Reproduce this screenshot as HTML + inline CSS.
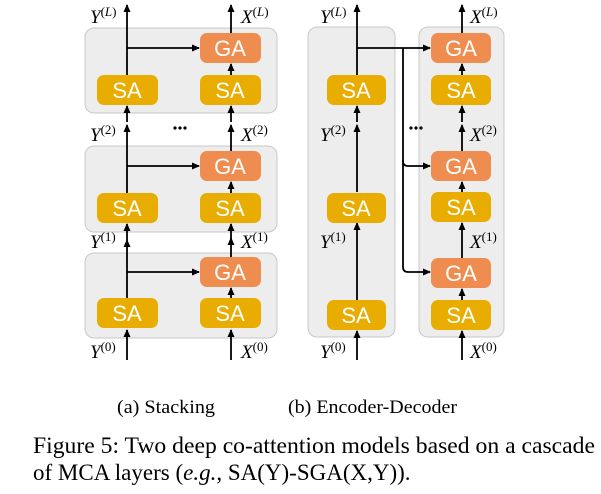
<!DOCTYPE html>
<html><head><style>body{margin:0;background:#fff}svg{display:block}</style></head><body>
<svg width="601" height="494" viewBox="0 0 601 494" xmlns="http://www.w3.org/2000/svg">
<defs><marker id="a" markerWidth="8" markerHeight="8" refX="7" refY="4" orient="auto" markerUnits="userSpaceOnUse"><path d="M0,0.5 L8,4 L0,7.5 Z" fill="#000"/></marker></defs>
<g fill="#ededed" stroke="#c8c8c8" stroke-width="1">
<rect x="85" y="28" width="192" height="85" rx="9"/>
<rect x="85" y="146" width="192" height="86" rx="9"/>
<rect x="85" y="253" width="192" height="85" rx="9"/>
<rect x="308" y="27" width="87" height="310" rx="9"/>
<rect x="419" y="27" width="85" height="310" rx="9"/>
</g>
<g stroke="#000" stroke-width="1.8" fill="none" marker-end="url(#a)">
<line x1="127" y1="75" x2="127" y2="5"/><line x1="127" y1="48" x2="199" y2="48"/>
<line x1="127" y1="122" x2="127" y2="106"/>
<line x1="127" y1="193" x2="127" y2="125"/><line x1="127" y1="166" x2="199" y2="166"/>
<line x1="127" y1="240" x2="127" y2="224"/>
<line x1="127" y1="298" x2="127" y2="240"/><line x1="127" y1="272" x2="199" y2="272"/>
<line x1="127" y1="360" x2="127" y2="330"/>
<line x1="231" y1="33" x2="231" y2="5"/><line x1="231" y1="75" x2="231" y2="64"/>
<line x1="231" y1="122" x2="231" y2="106"/>
<line x1="231" y1="151" x2="231" y2="125"/><line x1="231" y1="193" x2="231" y2="182"/>
<line x1="231" y1="240" x2="231" y2="224"/>
<line x1="231" y1="257" x2="231" y2="238"/><line x1="231" y1="298" x2="231" y2="288"/>
<line x1="231" y1="360" x2="231" y2="330"/>
<line x1="357" y1="75" x2="357" y2="5"/>
<line x1="357" y1="48" x2="430" y2="48"/>
<path d="M403,48 V161 Q403,166 408,166 H430"/>
<path d="M403,160 V267 Q403,272 408,272 H430"/>
<line x1="357" y1="122" x2="357" y2="106"/>
<line x1="357" y1="192" x2="357" y2="125"/>
<line x1="357" y1="300" x2="357" y2="223"/>
<line x1="357" y1="360" x2="357" y2="331"/>
<line x1="462" y1="33" x2="462" y2="5"/><line x1="462" y1="75" x2="462" y2="64"/>
<line x1="462" y1="122" x2="462" y2="106"/>
<line x1="462" y1="151" x2="462" y2="125"/><line x1="462" y1="192" x2="462" y2="182"/>
<line x1="462" y1="258" x2="462" y2="223"/><line x1="462" y1="300" x2="462" y2="289"/>
<line x1="462" y1="360" x2="462" y2="331"/>
</g>
<g font-family="Liberation Sans, DejaVu Sans, sans-serif" font-size="22" fill="#fff" text-anchor="middle">
<g fill="#e8ad00"><rect x="97" y="75" width="61" height="30" rx="7"/><rect x="200" y="75" width="61" height="30" rx="7"/>
<rect x="97" y="193" width="61" height="30" rx="7"/><rect x="200" y="193" width="61" height="30" rx="7"/>
<rect x="97" y="298" width="61" height="30" rx="7"/><rect x="200" y="298" width="61" height="30" rx="7"/>
<rect x="327" y="75" width="59" height="30" rx="7"/><rect x="327" y="193" width="59" height="30" rx="7"/><rect x="327" y="300" width="59" height="30" rx="7"/>
<rect x="431" y="75" width="60" height="30" rx="7"/><rect x="431" y="192" width="60" height="30" rx="7"/><rect x="431" y="300" width="60" height="30" rx="7"/></g>
<g fill="#ef8c4f"><rect x="200" y="33" width="61" height="30" rx="7"/><rect x="200" y="151" width="61" height="30" rx="7"/><rect x="200" y="257" width="61" height="30" rx="7"/>
<rect x="431" y="33" width="60" height="30" rx="7"/><rect x="431" y="151" width="60" height="30" rx="7"/><rect x="431" y="258" width="60" height="30" rx="7"/></g>
<text x="127" y="98">SA</text><text x="230" y="98">SA</text><text x="127" y="216">SA</text><text x="230" y="216">SA</text>
<text x="127" y="321">SA</text><text x="230" y="321">SA</text>
<text x="356" y="98">SA</text><text x="356" y="216">SA</text><text x="356" y="323">SA</text>
<text x="461" y="98">SA</text><text x="461" y="215">SA</text><text x="461" y="323">SA</text>
<text x="230" y="56">GA</text><text x="230" y="174">GA</text><text x="230" y="280">GA</text>
<text x="461" y="56">GA</text><text x="461" y="174">GA</text><text x="461" y="281">GA</text>
</g>
<g font-family="Liberation Serif, serif" font-size="19" font-style="italic" fill="#000">
<text x="90" y="23">Y<tspan font-size="13" dy="-7" font-style="normal">(<tspan font-style="italic">L</tspan>)</tspan></text>
<text x="241" y="23">X<tspan font-size="13" dy="-7" font-style="normal">(<tspan font-style="italic">L</tspan>)</tspan></text>
<text x="90" y="141">Y<tspan font-size="13" dy="-7" font-style="normal">(2)</tspan></text>
<text x="241" y="141">X<tspan font-size="13" dy="-7" font-style="normal">(2)</tspan></text>
<text x="90" y="248">Y<tspan font-size="13" dy="-7" font-style="normal">(1)</tspan></text>
<text x="241" y="248">X<tspan font-size="13" dy="-7" font-style="normal">(1)</tspan></text>
<text x="90" y="358">Y<tspan font-size="13" dy="-7" font-style="normal">(0)</tspan></text>
<text x="241" y="358">X<tspan font-size="13" dy="-7" font-style="normal">(0)</tspan></text>
<text x="320" y="23">Y<tspan font-size="13" dy="-7" font-style="normal">(<tspan font-style="italic">L</tspan>)</tspan></text>
<text x="470" y="23">X<tspan font-size="13" dy="-7" font-style="normal">(<tspan font-style="italic">L</tspan>)</tspan></text>
<text x="320" y="141">Y<tspan font-size="13" dy="-7" font-style="normal">(2)</tspan></text>
<text x="470" y="141">X<tspan font-size="13" dy="-7" font-style="normal">(2)</tspan></text>
<text x="320" y="248">Y<tspan font-size="13" dy="-7" font-style="normal">(1)</tspan></text>
<text x="470" y="248">X<tspan font-size="13" dy="-7" font-style="normal">(1)</tspan></text>
<text x="320" y="358">Y<tspan font-size="13" dy="-7" font-style="normal">(0)</tspan></text>
<text x="470" y="358">X<tspan font-size="13" dy="-7" font-style="normal">(0)</tspan></text>
</g>
<g fill="#000"><circle cx="175" cy="128" r="1.6"/><circle cx="180" cy="128" r="1.6"/><circle cx="185" cy="128" r="1.6"/>
<circle cx="411" cy="128" r="1.6"/><circle cx="416" cy="128" r="1.6"/><circle cx="421" cy="128" r="1.6"/></g>
<g font-family="Liberation Serif, serif" fill="#000">
<text x="117" y="413" font-size="19" textLength="98" lengthAdjust="spacingAndGlyphs">(a) Stacking</text>
<text x="288" y="413" font-size="19" textLength="169" lengthAdjust="spacingAndGlyphs">(b) Encoder-Decoder</text>
<text x="33" y="453" font-size="23" textLength="562" lengthAdjust="spacingAndGlyphs">Figure 5: Two deep co-attention models based on a cascade</text>
<text x="33" y="480" font-size="23">of MCA layers (<tspan font-style="italic">e.g.</tspan>, SA(Y)-SGA(X,Y)).</text>
</g>
</svg>
</body></html>
